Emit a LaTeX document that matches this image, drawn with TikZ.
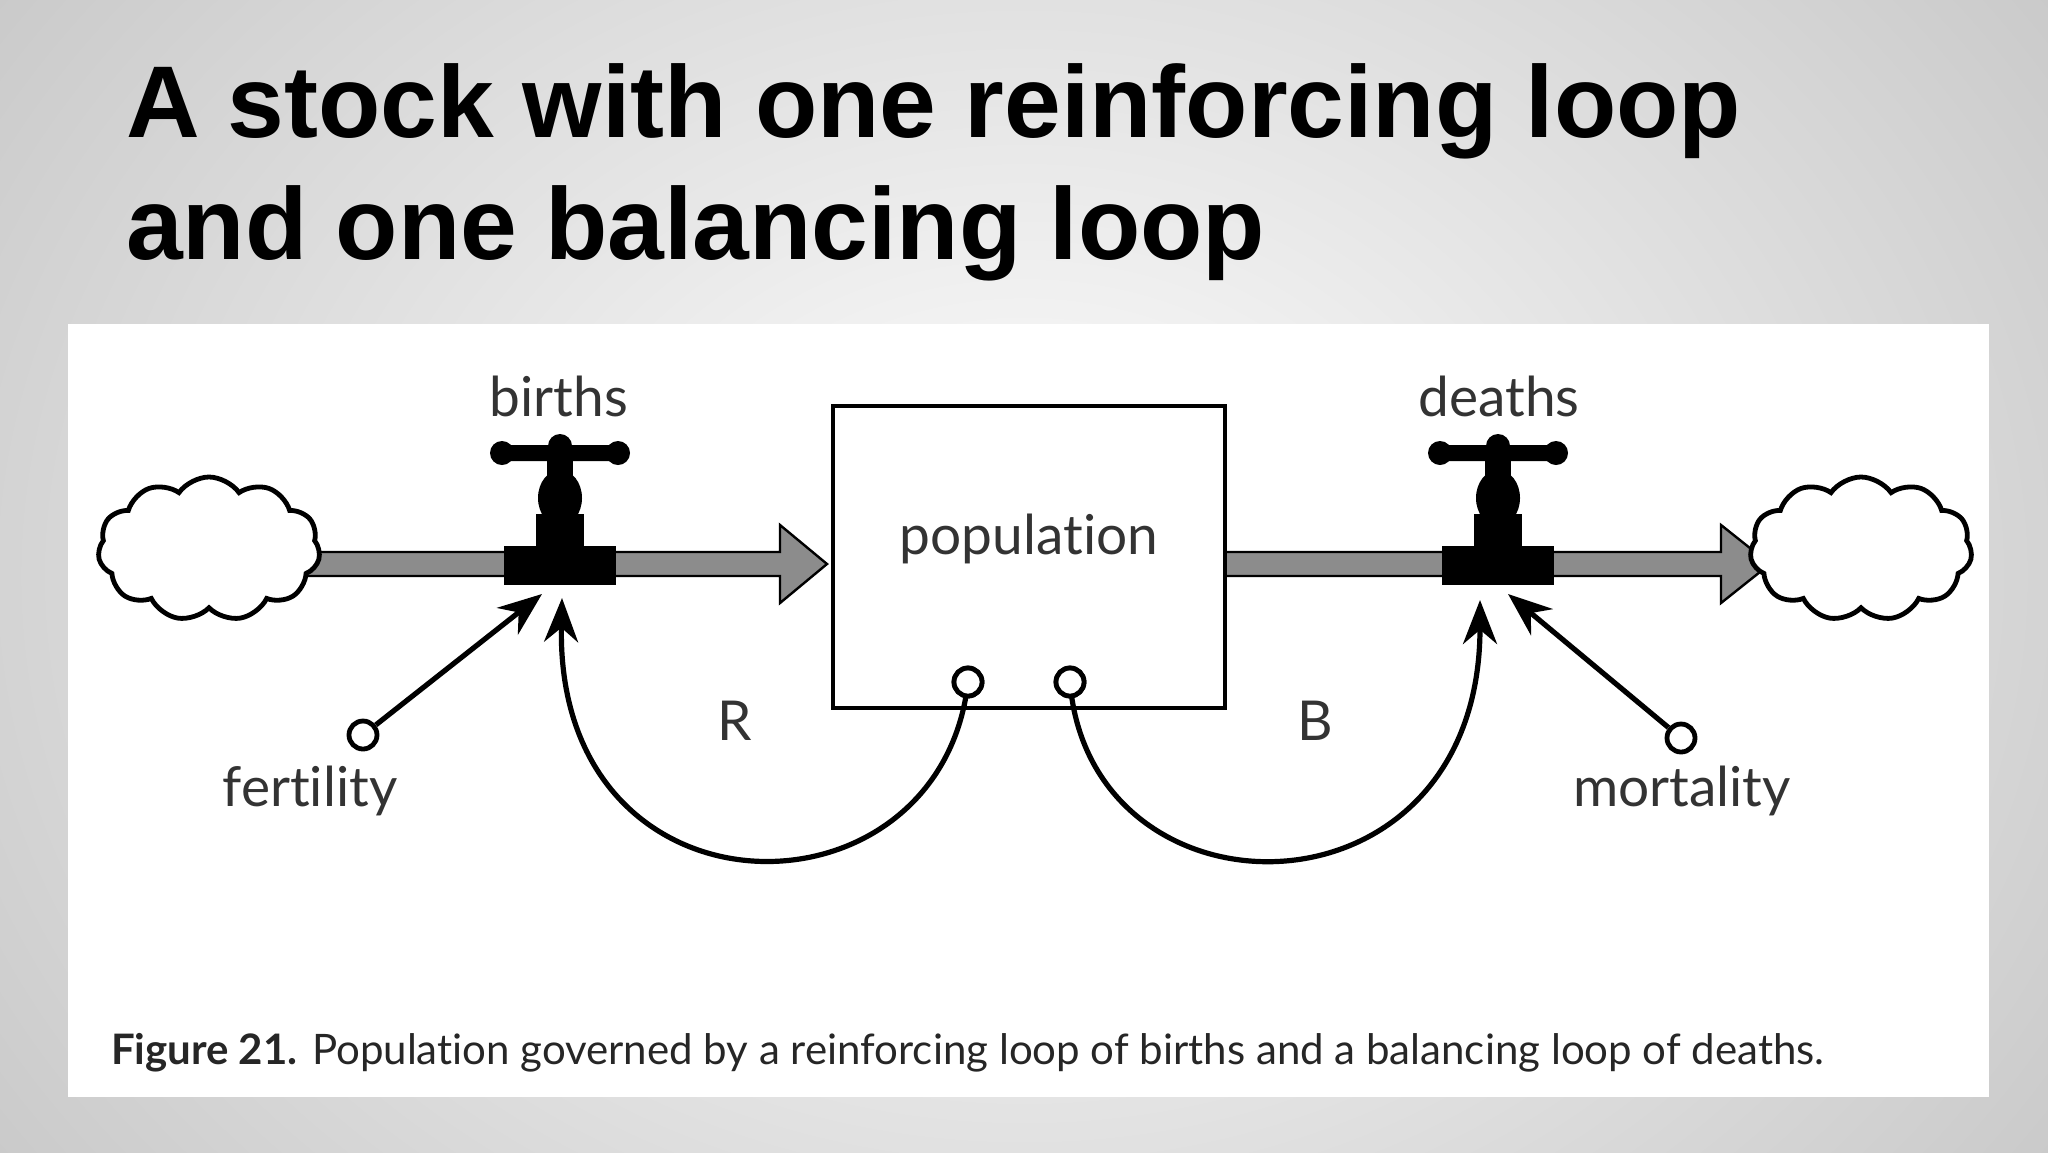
\documentclass[tikz,border=0pt]{standalone}
\usepackage{fontspec}
\setmainfont{Liberation Sans}
\newfontfamily\figfont[Ligatures=NoCommon]{Lato}
\usetikzlibrary{shapes.symbols,arrows.meta}
\begin{document}
\begin{tikzpicture}[x=0.5pt,y=-0.5pt,
  lbl/.style={font=\figfont\fontsize{27.5}{32}\selectfont, text=black!80},
  cloudnode/.style={cloud, cloud puffs=11, cloud puff arc=110, draw, line width=2.4pt, fill=white, minimum width=111pt, minimum height=72pt, aspect=1.5},
  pipe/.style={fill=black!45, draw=black, line width=1.2pt},
  link/.style={line width=2.6pt, -{Stealth[length=22pt,width=17pt]}},
  src/.style={circle, draw, line width=2.4pt, minimum size=14pt, inner sep=0pt, fill=white}]
\useasboundingbox (0,0) rectangle (2048,1152);
\shade[inner color=white, outer color=black!22] (-300,-500) rectangle (2348,1652);
\fill[white] (68,324) rectangle (1989,1097);
\node[anchor=base west, font=\bfseries\fontsize{51}{56}\selectfont] (t1) at (119,137) {A stock with one reinforcing loop};
\node[anchor=base west, font=\bfseries\fontsize{51}{56}\selectfont] (t2) at (119,259) {and one balancing loop};
% pipes
\draw[pipe] (300,552) -- (780,552) -- (780,525) -- (827,564) -- (780,603) -- (780,576) -- (300,576) -- cycle;
\draw[pipe] (1225,552) -- (1721,552) -- (1721,525) -- (1770,564) -- (1721,603) -- (1721,576) -- (1225,576) -- cycle;
\node[cloudnode] (c1) at (209,549) {};
\node[cloudnode] (c2) at (1861,549) {};
% stock
\node[draw, line width=2pt, minimum width=196pt, minimum height=151pt, fill=white, inner sep=0pt] (pop) at (1029,557) {};
\node[lbl] (poplbl) at (1029,539) {population};
% valves
\foreach \cx/\nm in {560/vb,1498/vd}{
  \fill (\cx-56,546) rectangle (\cx+56,585);
  \fill (\cx-24,514) rectangle (\cx+24,548);
  \fill (\cx,498) ellipse (22 and 28);
  \fill (\cx-13,451) rectangle (\cx+13,500);
  \fill[rounded corners=4pt] (\cx-60,445) rectangle (\cx+60,461);
  \fill (\cx-58,453) circle (12);
  \fill (\cx+58,453) circle (12);
  \fill (\cx,446) circle (12);
  \coordinate (\nm) at (\cx,594);
}
\node[lbl] (bl) at (559,396) {births};
\node[lbl] (dl) at (1499,396) {deaths};
% converters
\node[src] (fert) at (363,735) {};
\node[src] (mort) at (1681,738) {};
\node[src] (p1) at (968,682) {};
\node[src] (p2) at (1070,682) {};
\node[lbl] (fl) at (310,791) {fertility};
\node[lbl] (ml) at (1682,791) {mortality};
\coordinate (fe) at (542,594);
\coordinate (me) at (1508,594);
\draw[link] (fert) -- (fe);
\draw[link] (mort) -- (me);
\draw[link] (p1.center) .. controls (940,930) and (555,930) .. (562,598);
\draw[link] (p2.center) .. controls (1090,930) and (1480,930) .. (1480,600);
\node[src] at (p1) {};
\node[src] at (p2) {};
\node[lbl] (R) at (735,721) {R};
\node[lbl] (B) at (1315,721) {B};
\node[anchor=base west, font=\figfont\fontsize{21}{26}\selectfont, text=black!85] (cap) at (104,1064) {\textbf{Figure 21.} Population governed by a reinforcing loop of births and a balancing loop of deaths.};
\end{tikzpicture}
\end{document}
